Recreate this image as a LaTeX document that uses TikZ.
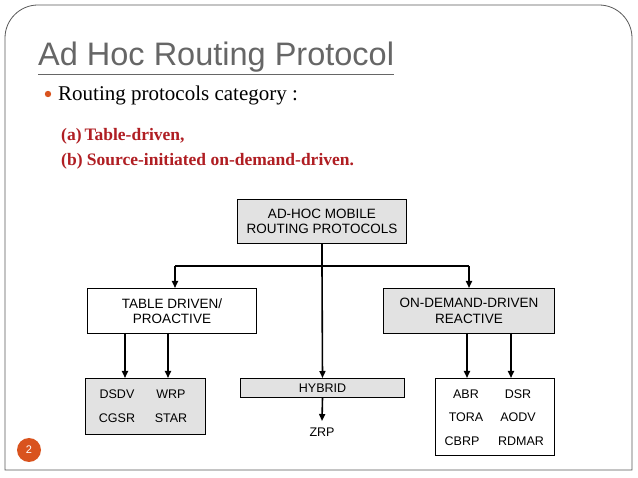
\documentclass[tikz,border=0pt]{standalone}
\usepackage{fontspec}
\setmainfont{Liberation Serif}
\newfontfamily\diag{Liberation Sans}
\usetikzlibrary{arrows.meta}
\definecolor{dred}{HTML}{B01E23}
\definecolor{orng}{HTML}{D9531E}
\definecolor{bgray}{HTML}{E2E2E2}
\begin{document}
\begin{tikzpicture}[x=1pt,y=-1pt,
  bx/.style={draw=black,line width=1pt,inner sep=0pt,anchor=north west},
  lbl/.style={font=\diag\fontsize{13.5}{15.5}\selectfont,align=center},
  leaf/.style={font=\diag\fontsize{12.5}{14}\selectfont},
  arr/.style={line width=1.6pt,-{Triangle[width=6pt,length=7pt]}}]
\useasboundingbox (0,0) rectangle (638,478);
\fill[white] (0,0) rectangle (638,478);
% frame
\draw[gray!70!black,line width=0.8pt] (5,470) {[rounded corners=33pt] -- (5,5) -- (632,5)} -- (632,470) -- cycle;
% title
\node[anchor=base west,inner sep=0pt,text=black!60,font=\diag\fontsize{32.5}{36}\selectfont] (title) at (38,66) {\underline{Ad Hoc Routing Protocol}};
\fill[orng] (48,94) circle (3.2);
\node[anchor=base west,inner sep=0pt,font=\fontsize{21}{24}\selectfont] (sub) at (58,101) {Routing protocols category :};
\node[anchor=base west,inner sep=0pt,text=dred,font=\bfseries\fontsize{17.5}{20}\selectfont] (a) at (61,141) {(a)\,Table-driven,};
\node[anchor=base west,inner sep=0pt,text=dred,font=\bfseries\fontsize{17.5}{20}\selectfont] (b) at (61,166) {(b) Source-initiated on-demand-driven.};
% boxes
\node[bx,fill=bgray,minimum width=169pt,minimum height=44pt,lbl] (top) at (237,199) {AD-HOC MOBILE\\ROUTING PROTOCOLS};
\node[bx,fill=white,minimum width=169pt,minimum height=45pt,lbl] (tab) at (87,288) {TABLE DRIVEN/\\PROACTIVE};
\node[bx,fill=bgray,minimum width=171pt,minimum height=45pt,lbl] (ond) at (383,288) {ON-DEMAND-DRIVEN\\REACTIVE};
\node[bx,fill=bgray,minimum width=120pt,minimum height=56pt] (tl) at (85,378) {};
\node[bx,fill=bgray,minimum width=164pt,minimum height=19pt,leaf] (hyb) at (240,378) {HYBRID};
\node[bx,fill=white,minimum width=119pt,minimum height=77pt] (rl) at (435,378) {};
\foreach \t/\x/\y in {DSDV/117/394,WRP/171/394,CGSR/117/418,STAR/171/418,ABR/466/394,DSR/518/394,TORA/466/417,AODV/518/417,CBRP/462/441,RDMAR/521/441}
  \node[leaf] (n\t) at (\x,\y) {\t};
\node[leaf] (zrp) at (322,432) {ZRP};
% connectors
\coordinate (jl) at (175,266);
\coordinate (jr) at (469,266);
\draw[line width=1.6pt] (jl) -- (jr);
\draw[line width=1.6pt] (top.south) -- (322,266);
\draw[arr] (jl) -- (jl |- tab.north);
\draw[arr] (jr) -- (jr |- ond.north);
\draw[arr] (322,266) -- (hyb.north);
\draw[arr] (125,333) -- (125,378);
\draw[arr] (168,333) -- (168,378);
\draw[arr] (467,333) -- (467,378);
\draw[arr] (511,333) -- (511,378);
\draw[arr] (hyb.south) -- (322,421);
% page number
\fill[orng] (29,450) circle (12);
\node[text=white,font=\diag\fontsize{11}{12}\selectfont] (pg) at (29,450) {2};
\end{tikzpicture}
\end{document}
